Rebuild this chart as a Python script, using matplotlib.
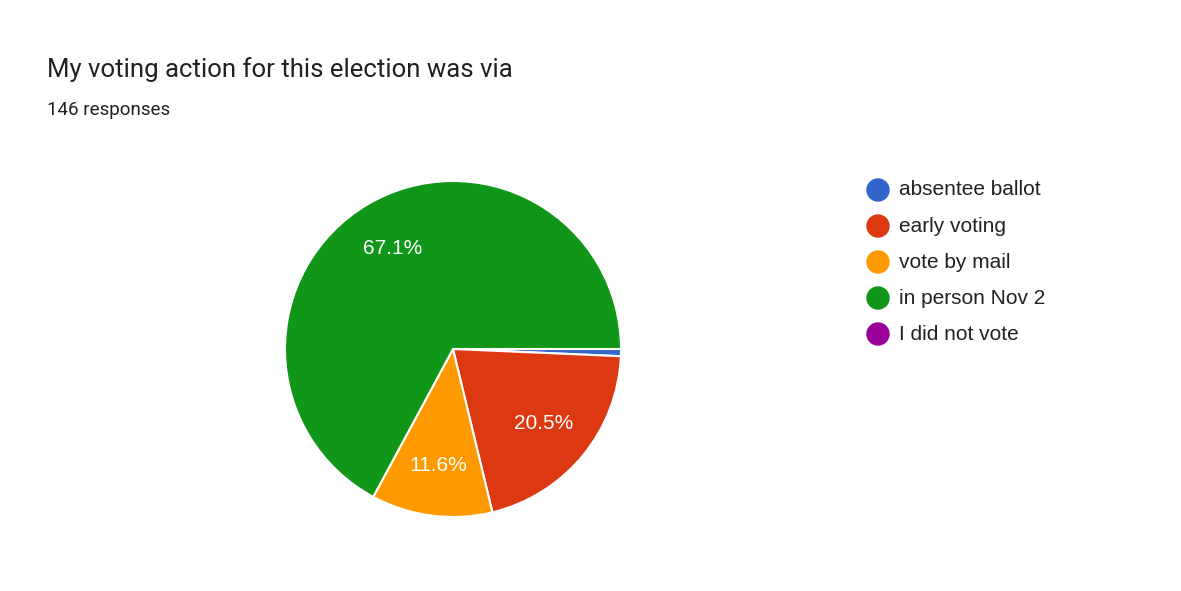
import matplotlib
matplotlib.use("Agg")
import matplotlib.pyplot as plt

categories = ["absentee ballot", "early voting", "vote by mail", "in person Nov 2", "I did not vote"]
counts = [1, 30, 17, 98, 0]
colors = ["#3366cc", "#dc3912", "#ff9900", "#109618", "#990099"]

plt.rcParams['font.family'] = ['Roboto', 'DejaVu Sans']
fig = plt.figure(figsize=(11.81, 5.91), dpi=100)
fig.text(47/1181, 1-70/591, "My voting action for this election was via", fontsize=18.5, color="#202124", va="center")
fig.text(47/1181, 1-110/591, "146 responses", fontsize=13.5, color="#202124", va="center")

ax = fig.add_axes([(453-168)/1181, 1-(349+168)/591, 336/1181, 336/591])
vals = [c for c in counts if c > 0]
cols = [colors[i] for i, c in enumerate(counts) if c > 0]
ax.pie(vals, colors=cols, startangle=0, counterclock=False,
       autopct=lambda p: f"{p:.1f}%" if p > 5 else "", pctdistance=0.7,
       wedgeprops=dict(edgecolor="white", linewidth=1.5),
       textprops=dict(color="white", fontsize=15, family=['Arial', 'Liberation Sans', 'DejaVu Sans']))
ax.set_xlim(-1.0, 1.0)
ax.set_ylim(-1.0, 1.0)
ax.set_aspect('equal')

for i, (cat, col) in enumerate(zip(categories, colors)):
    y = 1 - (190 + i*36)/591
    fig.patches.append(matplotlib.patches.Ellipse((878/1181, y), 22/1181, 22/591, transform=fig.transFigure, color=col))
    fig.text(899/1181, y, cat, fontsize=15, color="#222222", va="center",
             family=['Arial', 'Liberation Sans', 'DejaVu Sans'])

fig.savefig("out.png", dpi=100, facecolor="white")
